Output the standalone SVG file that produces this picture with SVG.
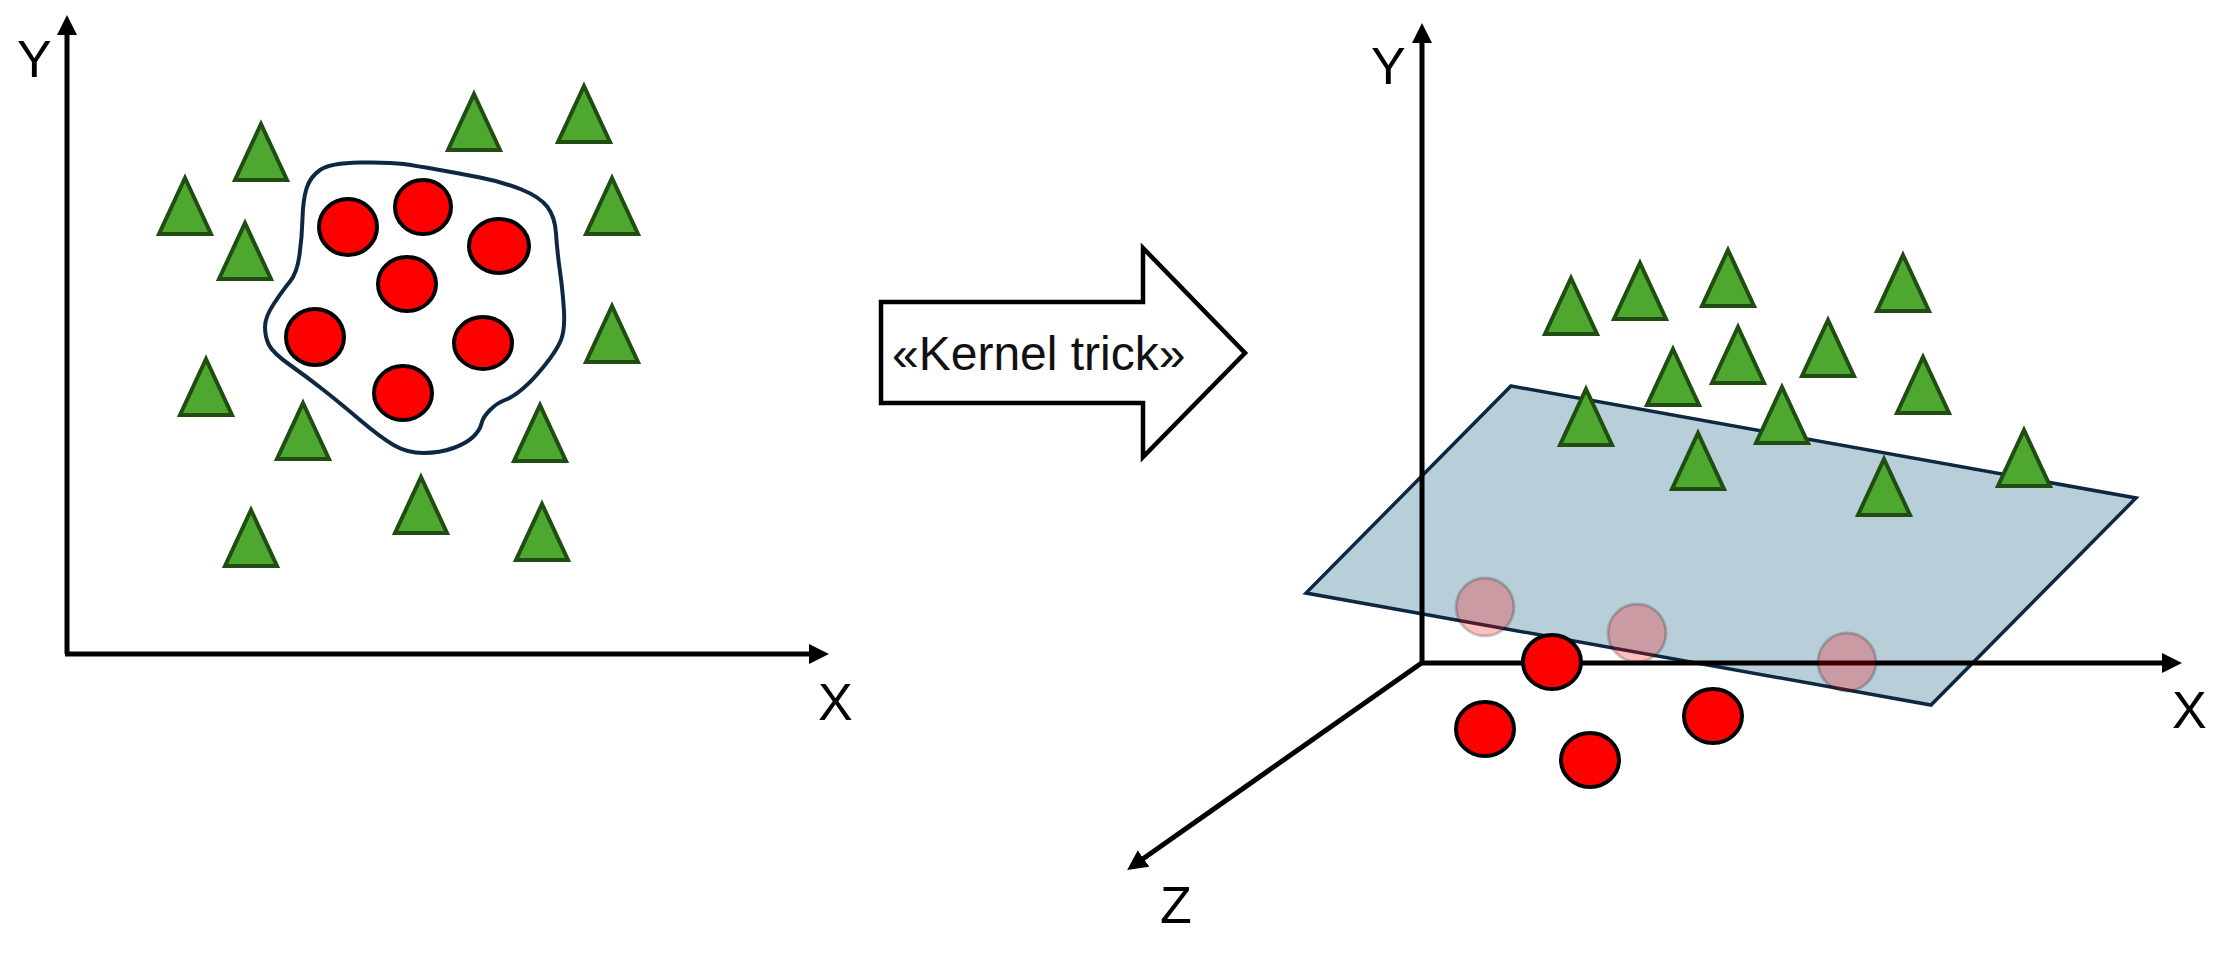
<svg xmlns="http://www.w3.org/2000/svg" xmlns:xlink="http://www.w3.org/1999/xlink" width="2225" height="953" viewBox="0 0 2225 953">
  <style>
    .axis { stroke: #000; stroke-width: 5; fill: none; marker-end: url(#ah); }
    .lbl { font-family: "Liberation Sans", Arial, sans-serif; font-size: 52px; fill: #000; }
    .tri { fill: #4ea72e; stroke: #1f4d12; stroke-width: 4; stroke-linejoin: miter; }
    .dot { fill: #ff0000; stroke: #000; stroke-width: 4; }
    .ghost { fill: #ff0000; fill-opacity: 0.25; stroke: #000; stroke-opacity: 0.2; stroke-width: 3; }
    .blob { fill: #fff; stroke: #0e2841; stroke-width: 4; stroke-linejoin: round; }
    .plane { fill: #b8cfda; stroke: #0e2841; stroke-width: 3.5; stroke-linejoin: miter; }
    .big { fill: #fff; stroke: #000; stroke-width: 4.5; }
    .ktext { font-family: "Liberation Sans", Arial, sans-serif; font-size: 48px; fill: #111; }
  </style>
  <defs>
    <marker id="ah" markerUnits="userSpaceOnUse" markerWidth="20" markerHeight="20" viewBox="0 0 20 20" refX="8" refY="10" orient="auto">
      <path d="M0,0 L20,10 L0,20 Z" fill="#000"/>
    </marker>
    <path id="t" d="M0,4 L26,60 L-26,60 Z"/>
  </defs>
  <rect width="2225" height="953" fill="#fff"/>

  <!-- LEFT PANEL -->
  <g id="left-axes">
    <line class="axis" x1="67" y1="654" x2="67" y2="27"/>
    <line class="axis" x1="65" y1="654" x2="817" y2="654"/>
    <text class="lbl" x="17" y="77">Y</text>
    <text class="lbl" x="818" y="720">X</text>
  </g>

  <g id="left-boundary">
    <path class="blob" d="M320,170 Q330,163 360,162.5 Q390,162 403.5,164 Q417,166 437,169.5 Q457,173 480,177.5 Q503,182 521.5,189.5 Q540,197 547.5,207 Q555,217 556,233.5 Q557,250 560,271.5 Q563,293 564,311.5 Q565,330 561,340 Q557,350 545,365 Q533,380 523,388.5 Q513,397 505,400 Q497,403 490,410 Q483,417 481.5,423.5 Q480,430 473.5,436.5 Q467,443 453.5,448 Q440,453 423.5,453 Q407,453 393.5,445 Q380,437 360,420 Q340,403 323.5,390 Q307,377 290,365 Q273,353 269,345 Q265,337 265,327 Q265,317 274,303.5 Q283,290 290,281.5 Q297,273 299.5,255 Q302,237 302.5,218.5 Q303,200 306.5,188.5 Q310,177 320,170 Z"/>
  </g>

  <g id="left-circles">
    <ellipse class="dot" cx="348" cy="227" rx="29" ry="28"/>
    <ellipse class="dot" cx="423" cy="207" rx="28" ry="27"/>
    <ellipse class="dot" cx="499" cy="246" rx="30" ry="27"/>
    <ellipse class="dot" cx="407" cy="284" rx="29" ry="27"/>
    <ellipse class="dot" cx="315" cy="337" rx="29" ry="28"/>
    <ellipse class="dot" cx="483" cy="343" rx="29" ry="26"/>
    <ellipse class="dot" cx="403" cy="393" rx="29" ry="27"/>
  </g>

  <g id="left-triangles">
    <use class="tri" xlink:href="#t" href="#t" transform="translate(261,120)"/>
    <use class="tri" xlink:href="#t" href="#t" transform="translate(474,90)"/>
    <use class="tri" xlink:href="#t" href="#t" transform="translate(584,82)"/>
    <use class="tri" xlink:href="#t" href="#t" transform="translate(185,174)"/>
    <use class="tri" xlink:href="#t" href="#t" transform="translate(612,174)"/>
    <use class="tri" xlink:href="#t" href="#t" transform="translate(245,219)"/>
    <use class="tri" xlink:href="#t" href="#t" transform="translate(612,302)"/>
    <use class="tri" xlink:href="#t" href="#t" transform="translate(206,355)"/>
    <use class="tri" xlink:href="#t" href="#t" transform="translate(303,399)"/>
    <use class="tri" xlink:href="#t" href="#t" transform="translate(540,401)"/>
    <use class="tri" xlink:href="#t" href="#t" transform="translate(421,473)"/>
    <use class="tri" xlink:href="#t" href="#t" transform="translate(251,506)"/>
    <use class="tri" xlink:href="#t" href="#t" transform="translate(542,500)"/>
  </g>

  <!-- KERNEL TRICK ARROW -->
  <g id="kernel-trick">
    <path class="big" d="M881,302 L1143,302 L1143,248 L1245,353 L1143,457 L1143,403 L881,403 Z"/>
    <text class="ktext" x="892" y="370">«Kernel trick»</text>
  </g>

  <!-- RIGHT PANEL -->
  <g id="right-plane">
    <polygon class="plane" points="1511,386 2136,498 1931,705 1306,593"/>
  </g>

  <g id="right-axes">
    <line class="axis" x1="1422" y1="665" x2="1422" y2="35"/>
    <line class="axis" x1="1420" y1="663" x2="2170" y2="663"/>
    <line class="axis" x1="1423" y1="662" x2="1137" y2="863"/>
    <text class="lbl" x="1371" y="84">Y</text>
    <text class="lbl" x="2172" y="728">X</text>
    <text class="lbl" x="1160" y="923">Z</text>
  </g>

  <g id="right-projected-circles">
    <circle class="ghost" cx="1485" cy="607" r="29"/>
    <circle class="ghost" cx="1637" cy="633" r="29"/>
    <circle class="ghost" cx="1847" cy="662" r="29"/>
  </g>

  <g id="right-circles">
    <ellipse class="dot" cx="1552" cy="662" rx="29" ry="27"/>
    <ellipse class="dot" cx="1485" cy="729" rx="29" ry="27"/>
    <ellipse class="dot" cx="1590" cy="760" rx="29" ry="27"/>
    <ellipse class="dot" cx="1713" cy="716" rx="29" ry="27"/>
  </g>

  <g id="right-triangles">
    <use class="tri" xlink:href="#t" href="#t" transform="translate(1571,274)"/>
    <use class="tri" xlink:href="#t" href="#t" transform="translate(1640,259)"/>
    <use class="tri" xlink:href="#t" href="#t" transform="translate(1728,246)"/>
    <use class="tri" xlink:href="#t" href="#t" transform="translate(1903,251)"/>
    <use class="tri" xlink:href="#t" href="#t" transform="translate(1673,345)"/>
    <use class="tri" xlink:href="#t" href="#t" transform="translate(1738,323)"/>
    <use class="tri" xlink:href="#t" href="#t" transform="translate(1828,316)"/>
    <use class="tri" xlink:href="#t" href="#t" transform="translate(1923,353)"/>
    <use class="tri" xlink:href="#t" href="#t" transform="translate(1586,385)"/>
    <use class="tri" xlink:href="#t" href="#t" transform="translate(1782,383)"/>
    <use class="tri" xlink:href="#t" href="#t" transform="translate(1698,429)"/>
    <use class="tri" xlink:href="#t" href="#t" transform="translate(1884,455)"/>
    <use class="tri" xlink:href="#t" href="#t" transform="translate(2024,426)"/>
  </g>
</svg>
